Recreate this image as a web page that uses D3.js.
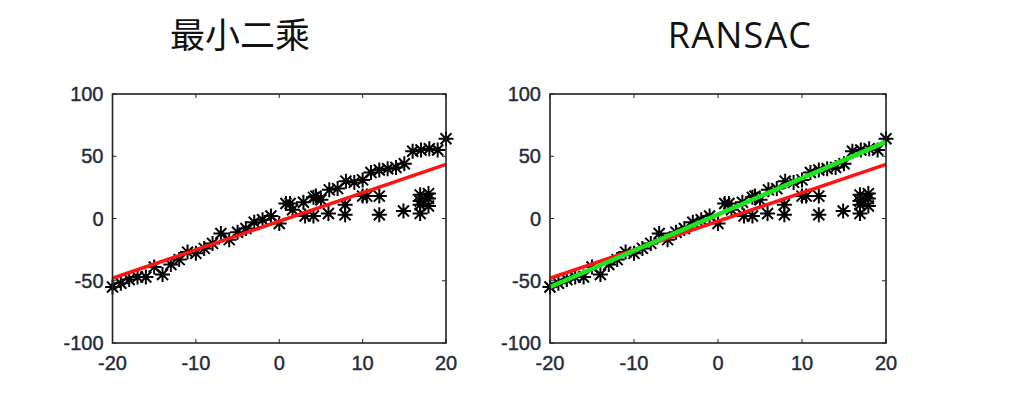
<!DOCTYPE html>
<html>
<head>
<meta charset="utf-8">
<script src="https://cdn.jsdelivr.net/npm/d3@7"></script>
<style>
  body { margin: 0; background: #fff; }
</style>
</head>
<body>
<svg id="chart" width="1014" height="399"></svg>
<script>
// Data points (same points in both panels)
const pointsX = [-20, -19, -18, -17, -16, -15, -14, -13, -12, -11, -10, -9, -8, -7, -6, -5, -4, -3, -2, -1, 0,
    0.8, 1.3, 1.6, 2.9, 4.1, 4.4, 5, 6, 7, 8, 9, 10, 11, 12, 13, 14, 15, 16, 17, 18, 19, 20,
    3.1, 4.1, 5.9, 7.9, 7.9, 10, 10.5, 12, 12, 14.9, 16.9, 16.9, 16.9, 16.9, 17.9, 17.9, 17.9];
const pointsY = [-55, -52, -49, -47, -47, -39, -45, -37, -33, -27, -28, -24, -20, -12, -17, -11, -8, -3, -1, 2, -4,
    12, 12, 7, 13, 17, 18, 15, 23, 24, 30, 29, 31, 37, 39, 40, 41, 44, 54, 55, 56, 55, 64,
    2, 2, 4, 11, 3, 18, 18, 18, 3, 6, 19, 14, 11, 4, 20, 16, 10];

// Fitted lines (endpoints)
const lsLineX = [-20, 20];
const lsLineY = [-48, 43.5];
const ransacLineX = [-20, 20];
const ransacLineY = [-55, 61.5];

// Axis ticks
const xTicks = [-20, -10, 0, 10, 20];
const yTicks = [-100, -50, 0, 50, 100];

const titles = ["最小二乘", "RANSAC"];

const svg = d3.select("#chart");
const tickFont = "'Liberation Sans', Arial, sans-serif";
const tickColor = "#232a3c";

const panels = [
    { left: 112.5, right: 446, titleX: 240, title: titles[0], green: false },
    { left: 550, right: 886, titleX: 740, title: titles[1], green: true }
];
const plotTop = 94, plotBottom = 343;

function drawStar(g, cx, cy) {
    // MATLAB style '*' marker
    const a = 7.5, b = 5.5;
    g.append("path")
        .attr("d", `M${cx - a},${cy}L${cx + a},${cy}M${cx},${cy - a}L${cx},${cy + a}` +
            `M${cx - b},${cy - b}L${cx + b},${cy + b}M${cx - b},${cy + b}L${cx + b},${cy - b}`)
        .attr("stroke", "#000")
        .attr("stroke-width", 2)
        .attr("fill", "none");
    g.append("circle")
        .attr("cx", cx).attr("cy", cy).attr("r", 2.5)
        .attr("fill", "#000");
}

function drawLine(g, x, y, xs, ys, color, width) {
    const pts = xs.map((v, i) => ({ x: v, y: ys[i] }));
    g.append("path")
        .datum(pts)
        .attr("fill", "none")
        .attr("stroke", color)
        .attr("stroke-width", width)
        .attr("d", d3.line().x(d => x(d.x)).y(d => y(d.y)));
}

panels.forEach(p => {
    const x = d3.scaleLinear().domain([-20, 20]).range([p.left, p.right]);
    const y = d3.scaleLinear().domain([-100, 100]).range([plotBottom, plotTop]);
    const g = svg.append("g");

    // Title
    g.append("text")
        .attr("x", p.titleX)
        .attr("y", 48)
        .attr("text-anchor", "middle")
        .style("font-family", p.green ? "'Open Sans', sans-serif" : "'Noto Sans CJK SC', sans-serif")
        .style("font-size", p.green ? "36px" : "35px")
        .style("letter-spacing", p.green ? "1.2px" : "0px")
        .attr("fill", "#111")
        .text(p.title);

    // Points
    const pg = g.append("g");
    pointsX.forEach((v, i) => drawStar(pg, x(v), y(pointsY[i])));

    // Lines
    drawLine(g, x, y, lsLineX, lsLineY, "#ff1414", 3.5);
    if (p.green) drawLine(g, x, y, ransacLineX, ransacLineY, "#1ee61e", 4.5);

    // Box and inward ticks
    g.append("rect")
        .attr("x", p.left).attr("y", plotTop)
        .attr("width", p.right - p.left).attr("height", plotBottom - plotTop)
        .attr("fill", "none").attr("stroke", "#222").attr("stroke-width", 1.6);

    const tickLen = 4;
    xTicks.forEach(t => {
        g.append("line").attr("x1", x(t)).attr("x2", x(t))
            .attr("y1", plotBottom).attr("y2", plotBottom - tickLen)
            .attr("stroke", "#222").attr("stroke-width", 1);
        g.append("line").attr("x1", x(t)).attr("x2", x(t))
            .attr("y1", plotTop).attr("y2", plotTop + tickLen)
            .attr("stroke", "#222").attr("stroke-width", 1);
        g.append("text")
            .attr("x", x(t)).attr("y", 370)
            .attr("text-anchor", "middle")
            .style("font-family", tickFont).style("font-size", "20px")
            .attr("fill", tickColor)
            .attr("stroke", tickColor).attr("stroke-width", 0.4)
            .text(t);
    });
    yTicks.forEach(t => {
        g.append("line").attr("x1", p.left).attr("x2", p.left + tickLen)
            .attr("y1", y(t)).attr("y2", y(t))
            .attr("stroke", "#222").attr("stroke-width", 1);
        g.append("line").attr("x1", p.right).attr("x2", p.right - tickLen)
            .attr("y1", y(t)).attr("y2", y(t))
            .attr("stroke", "#222").attr("stroke-width", 1);
        g.append("text")
            .attr("x", p.left - 9).attr("y", y(t))
            .attr("dy", "0.35em")
            .attr("text-anchor", "end")
            .style("font-family", tickFont).style("font-size", "20px")
            .attr("fill", tickColor)
            .attr("stroke", tickColor).attr("stroke-width", 0.4)
            .text(t);
    });
});
</script>
</body>
</html>
